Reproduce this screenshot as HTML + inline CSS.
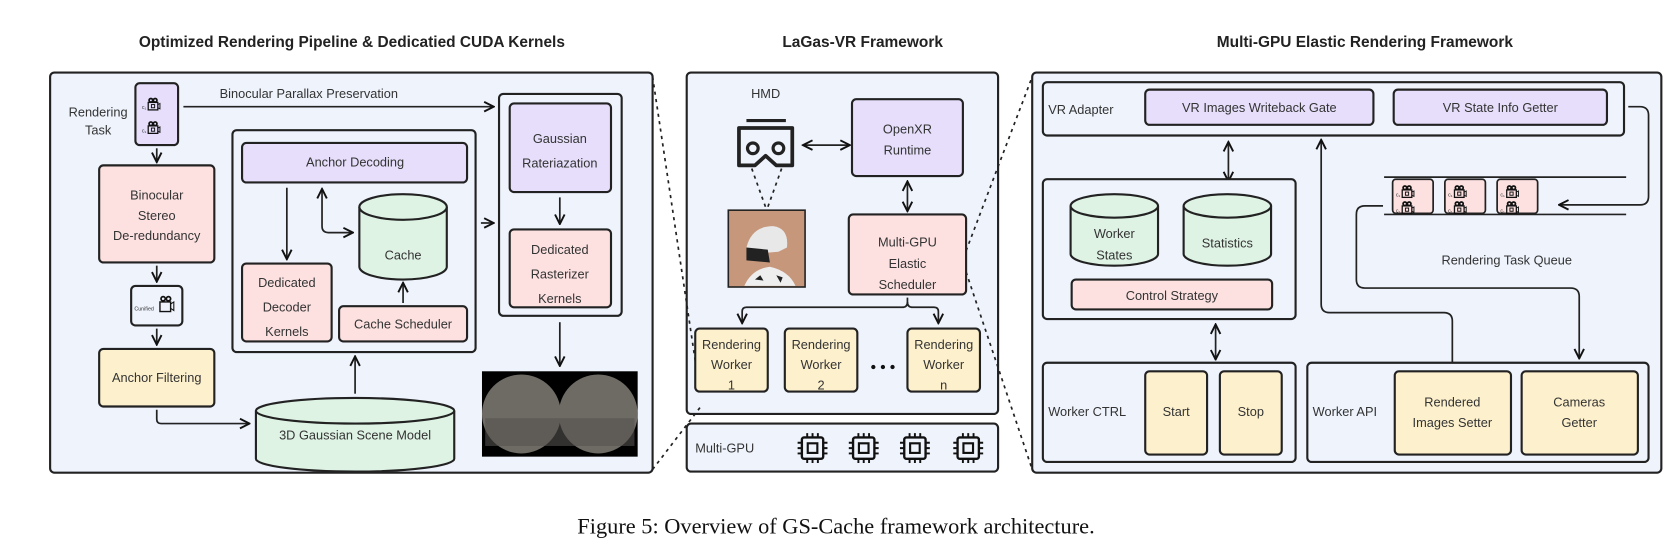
<!DOCTYPE html>
<html><head><meta charset="utf-8"><style>
html,body{margin:0;padding:0;background:#fff;}
svg{display:block;}
text{font-family:"Liberation Sans","DejaVu Sans",sans-serif;fill:#333;}
.t{font-size:12px;text-anchor:middle;}
.l{font-size:12px;}
.h{font-size:14.5px;font-weight:bold;fill:#222;text-anchor:middle;}
</style></head><body>
<svg width="1672" height="558" viewBox="0 0 1568 523" preserveAspectRatio="none" xmlns="http://www.w3.org/2000/svg">
<defs>
<marker id="a" viewBox="0 0 10 10" refX="9" refY="5" markerWidth="7" markerHeight="7" orient="auto-start-reverse"><path d="M1,1 L9,5 L1,9" fill="none" stroke="#111" stroke-width="1.6"/></marker>
<g id="cam"><text x="0" y="4" style="font-size:5px" fill="#333">c₁</text><rect x="6" y="-2" width="9" height="7" fill="none" stroke="#111" stroke-width="1.2"/><rect x="9" y="0" width="3" height="3" fill="none" stroke="#111" stroke-width="0.9"/><path d="M15,0 L17,-1 L17,4 L15,3" fill="none" stroke="#111" stroke-width="0.9"/><circle cx="8.5" cy="-4" r="1.7" fill="none" stroke="#111"/><circle cx="12.5" cy="-4" r="1.7" fill="none" stroke="#111"/></g>
<g id="chip"><rect x="-10" y="-10" width="20" height="20" rx="2" fill="none" stroke="#111" stroke-width="2.2"/><rect x="-4.5" y="-4.5" width="9" height="9" fill="none" stroke="#111" stroke-width="2"/><path d="M-5,-10v-4M0,-10v-4M5,-10v-4M-5,10v4M0,10v4M5,10v4M-10,-5h-4M-10,0h-4M-10,5h-4M10,-5h4M10,0h4M10,5h4" stroke="#111" stroke-width="1.8"/></g>
</defs>
<g stroke="#222" stroke-width="1.6">
<text class="h" x="330" y="44" stroke="none">Optimized Rendering Pipeline &amp; Dedicatied CUDA Kernels</text>
<text class="h" x="809" y="44" stroke="none">LaGas-VR Framework</text>
<text class="h" x="1280" y="44" stroke="none">Multi-GPU Elastic Rendering Framework</text>

<!-- LEFT PANEL -->
<rect x="47" y="68" width="565" height="375" rx="4" fill="#eef3fc" stroke-width="2"/>
<text class="t" x="92" y="109" stroke="none">Rendering</text>
<text class="t" x="92" y="126" stroke="none">Task</text>
<rect x="127" y="78" width="40" height="58" rx="4" fill="#e6defa" stroke-width="2"/>
<use href="#cam" x="133" y="98" stroke="none"/>
<use href="#cam" x="133" y="120" stroke="none"/>
<line x1="172" y1="100" x2="463" y2="100" marker-end="url(#a)"/>
<text class="l" x="206" y="92" stroke="none">Binocular Parallax Preservation</text>
<line x1="147" y1="139" x2="147" y2="152" marker-end="url(#a)"/>
<rect x="93" y="155" width="108" height="91" rx="4" fill="#fde1e1" stroke-width="2"/>
<text class="t" x="147" y="187" stroke="none">Binocular</text>
<text class="t" x="147" y="206" stroke="none">Stereo</text>
<text class="t" x="147" y="225" stroke="none">De-redundancy</text>
<line x1="147" y1="249" x2="147" y2="264" marker-end="url(#a)"/>
<rect x="123" y="268" width="48" height="37" rx="4" fill="#eef3fc" stroke-width="2"/>
<text x="126" y="291" style="font-size:5px" stroke="none">Cunified</text>
<g transform="translate(150,281)"><rect x="0" y="2" width="10" height="9" fill="none" stroke="#111" stroke-width="1.3"/><circle cx="3" cy="-1" r="2" fill="none" stroke="#111"/><circle cx="8" cy="-1" r="2" fill="none" stroke="#111"/><path d="M10,4 L13,2 L13,10 L10,8" fill="none" stroke="#111" stroke-width="1"/></g>
<line x1="147" y1="308" x2="147" y2="323" marker-end="url(#a)"/>
<rect x="93" y="327" width="108" height="54" rx="4" fill="#fdf0cc" stroke-width="2"/>
<text class="t" x="147" y="358" stroke="none">Anchor Filtering</text>
<path d="M147,384 V393 Q147,397 151,397 H234" fill="none" marker-end="url(#a)"/>
<path d="M240,385 V430 A93,12 0 0 0 426,430 V385" fill="#dff3e5" stroke-width="2"/>
<ellipse cx="333" cy="385" rx="93" ry="12" fill="#dff3e5" stroke-width="2"/>
<text class="t" x="333" y="412" stroke="none">3D Gaussian Scene Model</text>
<line x1="333" y1="369" x2="333" y2="334" marker-end="url(#a)"/>
<rect x="218" y="122" width="228" height="208" rx="4" fill="#eef3fc" stroke-width="2"/>
<rect x="227" y="134" width="211" height="37" rx="4" fill="#e6defa" stroke-width="2"/>
<text class="t" x="333" y="156" stroke="none">Anchor Decoding</text>
<line x1="269" y1="176" x2="269" y2="243" marker-end="url(#a)"/>
<rect x="227" y="247" width="84" height="73" rx="4" fill="#fde1e1" stroke-width="2"/>
<text class="t" x="269" y="269" stroke="none">Dedicated</text>
<text class="t" x="269" y="292" stroke="none">Decoder</text>
<text class="t" x="269" y="315" stroke="none">Kernels</text>
<path d="M302,177 V212 Q302,218 308,218 H331" fill="none" marker-start="url(#a)" marker-end="url(#a)"/>
<path d="M337,194 V250 A41,12 0 0 0 419,250 V194" fill="#dff3e5" stroke-width="2"/>
<ellipse cx="378" cy="194" rx="41" ry="12" fill="#dff3e5" stroke-width="2"/>
<text class="t" x="378" y="243" stroke="none">Cache</text>
<line x1="378" y1="284" x2="378" y2="265" marker-end="url(#a)"/>
<rect x="318" y="287" width="120" height="33" rx="4" fill="#fde1e1" stroke-width="2"/>
<text class="t" x="378" y="308" stroke="none">Cache Scheduler</text>
<line x1="451" y1="209" x2="463" y2="209" marker-end="url(#a)"/>
<rect x="468" y="88" width="115" height="208" rx="4" fill="#eef3fc" stroke-width="2"/>
<rect x="478" y="97" width="95" height="83" rx="4" fill="#e6defa" stroke-width="2"/>
<text class="t" x="525" y="134" stroke="none">Gaussian</text>
<text class="t" x="525" y="157" stroke="none">Rateriazation</text>
<line x1="525" y1="185" x2="525" y2="210" marker-end="url(#a)"/>
<rect x="478" y="215" width="95" height="73" rx="4" fill="#fde1e1" stroke-width="2"/>
<text class="t" x="525" y="238" stroke="none">Dedicated</text>
<text class="t" x="525" y="261" stroke="none">Rasterizer</text>
<text class="t" x="525" y="284" stroke="none">Kernels</text>
<line x1="525" y1="302" x2="525" y2="343" marker-end="url(#a)"/>
<rect x="452" y="348" width="146" height="80" fill="#000" stroke="none"/>
<circle cx="489" cy="388" r="37" fill="#6e6a64" stroke="none"/>
<circle cx="561" cy="388" r="37" fill="#6e6a64" stroke="none"/>
<rect x="455" y="392" width="140" height="26" fill="#55524e" stroke="none" opacity="0.6"/>

<!-- MIDDLE -->
<rect x="644" y="68" width="292" height="320" rx="4" fill="#eef3fc" stroke-width="2"/>
<g stroke-dasharray="3,4" stroke-width="1.6" fill="none">
<line x1="612" y1="72" x2="652" y2="338"/>
<line x1="612" y1="440" x2="658" y2="380"/>
<line x1="906" y1="235" x2="968" y2="72"/>
<line x1="906" y1="255" x2="968" y2="440"/>
<line x1="705" y1="158" x2="719" y2="197"/>
<line x1="733" y1="158" x2="719" y2="197"/>
</g>
<text class="t" x="718" y="92" stroke="none">HMD</text>
<line x1="700" y1="113" x2="737" y2="113" stroke-width="3"/>
<path d="M693,120 H743 V155 H728 L718,146 L708,155 H693 Z" fill="none" stroke-width="3.5" stroke-linejoin="round"/>
<circle cx="706" cy="139" r="5" fill="none" stroke-width="3"/>
<circle cx="730" cy="139" r="5" fill="none" stroke-width="3"/>
<line x1="753" y1="136" x2="797" y2="136" marker-start="url(#a)" marker-end="url(#a)"/>
<rect x="799" y="93" width="104" height="72" rx="4" fill="#e6defa" stroke-width="2"/>
<text class="t" x="851" y="125" stroke="none">OpenXR</text>
<text class="t" x="851" y="145" stroke="none">Runtime</text>
<line x1="851" y1="170" x2="851" y2="198" marker-start="url(#a)" marker-end="url(#a)"/>
<rect x="683" y="197" width="72" height="72" fill="#c7977c" stroke-width="1.5"/>
<path d="M700,232 Q705,212 725,212 Q740,214 738,232 L730,236 L705,238 Z" fill="#e8e8e8" stroke="none"/>
<path d="M700,232 L720,234 L722,246 L700,244 Z" fill="#222" stroke="none"/>
<path d="M698,268 Q705,252 722,250 Q740,254 746,268 Z" fill="#eee" stroke="none"/>
<path d="M708,262 l5,-4 l3,5 z M728,258 l6,2 l-2,5 z" fill="#222" stroke="none"/>
<rect x="796" y="201" width="110" height="75" rx="4" fill="#fde1e1" stroke-width="2"/>
<text class="t" x="851" y="231" stroke="none">Multi-GPU</text>
<text class="t" x="851" y="251" stroke="none">Elastic</text>
<text class="t" x="851" y="271" stroke="none">Scheduler</text>
<path d="M851,279 V283 Q851,288 846,288 H700 Q696,288 696,292 V303" fill="none" marker-end="url(#a)"/>
<path d="M851,283 Q851,288 856,288 H876 Q880,288 880,292 V303" fill="none" marker-end="url(#a)"/>
<rect x="652" y="308" width="68" height="59" rx="4" fill="#fdf0cc" stroke-width="2"/>
<rect x="736" y="308" width="68" height="59" rx="4" fill="#fdf0cc" stroke-width="2"/>
<rect x="851" y="308" width="68" height="59" rx="4" fill="#fdf0cc" stroke-width="2"/>
<g stroke="none">
<text class="t" x="686" y="327">Rendering</text><text class="t" x="686" y="346">Worker</text><text class="t" x="686" y="365">1</text>
<text class="t" x="770" y="327">Rendering</text><text class="t" x="770" y="346">Worker</text><text class="t" x="770" y="365">2</text>
<text class="t" x="885" y="327">Rendering</text><text class="t" x="885" y="346">Worker</text><text class="t" x="885" y="365">n</text>
<circle cx="819" cy="344" r="2" fill="#111"/><circle cx="828" cy="344" r="2" fill="#111"/><circle cx="837" cy="344" r="2" fill="#111"/>
</g>
<rect x="644" y="397" width="292" height="45" rx="4" fill="#eef3fc" stroke-width="2"/>
<text class="l" x="652" y="424" stroke="none">Multi-GPU</text>
<use href="#chip" x="762" y="420"/><use href="#chip" x="810" y="420"/><use href="#chip" x="858" y="420"/><use href="#chip" x="908" y="420"/>

<!-- RIGHT -->
<rect x="968" y="68" width="590" height="375" rx="4" fill="#eef3fc" stroke-width="2"/>
<rect x="978" y="77" width="545" height="50" rx="4" fill="#eef3fc" stroke-width="2"/>
<text class="l" x="983" y="107" stroke="none">VR Adapter</text>
<rect x="1074" y="84" width="214" height="33" rx="4" fill="#e6defa" stroke-width="2"/>
<text class="t" x="1181" y="105" stroke="none">VR Images Writeback Gate</text>
<rect x="1307" y="84" width="200" height="33" rx="4" fill="#e6defa" stroke-width="2"/>
<text class="t" x="1407" y="105" stroke="none">VR State Info Getter</text>
<path d="M1527,100 H1538 Q1546,100 1546,108 V184 Q1546,192 1538,192 H1462" fill="none" marker-end="url(#a)"/>
<line x1="1298" y1="166" x2="1525" y2="166"/>
<line x1="1298" y1="201" x2="1525" y2="201"/>
<rect x="1306" y="168" width="38" height="32" rx="3" fill="#fde1e1" stroke-width="1.6"/>
<rect x="1355" y="168" width="38" height="32" rx="3" fill="#fde1e1" stroke-width="1.6"/>
<rect x="1404" y="168" width="38" height="32" rx="3" fill="#fde1e1" stroke-width="1.6"/>
<g stroke="none">
<use href="#cam" x="1309" y="180"/><use href="#cam" x="1309" y="195"/>
<use href="#cam" x="1358" y="180"/><use href="#cam" x="1358" y="195"/>
<use href="#cam" x="1407" y="180"/><use href="#cam" x="1407" y="195"/>
<text class="t" x="1413" y="248">Rendering Task Queue</text>
</g>
<line x1="1152" y1="133" x2="1152" y2="170" marker-start="url(#a)" marker-end="url(#a)"/>
<rect x="978" y="168" width="237" height="131" rx="4" fill="#eef3fc" stroke-width="2"/>
<path d="M1004,193 V238 A41,11 0 0 0 1086,238 V193" fill="#dff3e5" stroke-width="2"/>
<ellipse cx="1045" cy="193" rx="41" ry="11" fill="#dff3e5" stroke-width="2"/>
<path d="M1110,193 V238 A41,11 0 0 0 1192,238 V193" fill="#dff3e5" stroke-width="2"/>
<ellipse cx="1151" cy="193" rx="41" ry="11" fill="#dff3e5" stroke-width="2"/>
<text class="t" x="1045" y="223" stroke="none">Worker</text>
<text class="t" x="1045" y="243" stroke="none">States</text>
<text class="t" x="1151" y="232" stroke="none">Statistics</text>
<rect x="1005" y="262" width="188" height="28" rx="4" fill="#fde1e1" stroke-width="2"/>
<text class="t" x="1099" y="281" stroke="none">Control Strategy</text>
<line x1="1140" y1="304" x2="1140" y2="337" marker-start="url(#a)" marker-end="url(#a)"/>
<path d="M1297,193 H1280 Q1272,193 1272,201 V262 Q1272,270 1280,270 H1473 Q1481,270 1481,278 V336" fill="none" marker-end="url(#a)"/>
<path d="M1362,340 V301 Q1362,293 1354,293 H1247 Q1239,293 1239,285 V131" fill="none" marker-end="url(#a)"/>
<rect x="978" y="340" width="237" height="93" rx="4" fill="#eef3fc" stroke-width="2"/>
<text class="l" x="983" y="390" stroke="none">Worker CTRL</text>
<rect x="1074" y="348" width="58" height="78" rx="4" fill="#fdf0cc" stroke-width="2"/>
<text class="t" x="1103" y="390" stroke="none">Start</text>
<rect x="1144" y="348" width="58" height="78" rx="4" fill="#fdf0cc" stroke-width="2"/>
<text class="t" x="1173" y="390" stroke="none">Stop</text>
<rect x="1226" y="340" width="320" height="93" rx="4" fill="#eef3fc" stroke-width="2"/>
<text class="l" x="1231" y="390" stroke="none">Worker API</text>
<rect x="1308" y="348" width="109" height="78" rx="4" fill="#fdf0cc" stroke-width="2"/>
<text class="t" x="1362" y="381" stroke="none">Rendered</text>
<text class="t" x="1362" y="400" stroke="none">Images Setter</text>
<rect x="1427" y="348" width="109" height="78" rx="4" fill="#fdf0cc" stroke-width="2"/>
<text class="t" x="1481" y="381" stroke="none">Cameras</text>
<text class="t" x="1481" y="400" stroke="none">Getter</text>
</g>
<text x="784" y="500" style="font-family:'Liberation Serif',serif;font-size:21px;text-anchor:middle;fill:#111">Figure 5: Overview of GS-Cache framework architecture.</text>
</svg>
</body></html>
